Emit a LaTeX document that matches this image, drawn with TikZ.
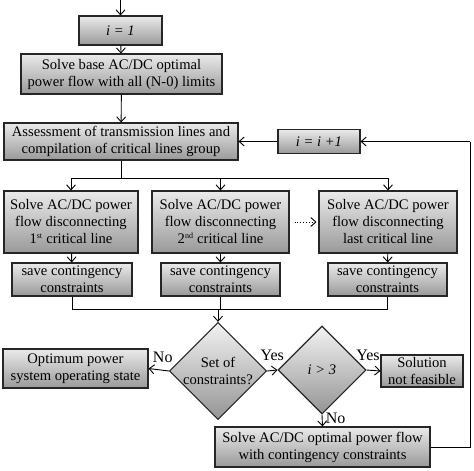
\documentclass[tikz,border=0pt]{standalone}
\usepackage{fontspec}
\setmainfont{Liberation Serif}
\usetikzlibrary{arrows.meta,shapes.geometric}
\begin{document}
\begin{tikzpicture}[x=1pt,y=-1pt,
  font=\fontsize{14.6}{17}\selectfont,
  >={Straight Barb[length=5pt,width=9pt]},
  line width=0.9pt,
  box/.style={rectangle,draw=black!85,line width=1.1pt,top color=white!92!black,bottom color=black!40,
    align=center,inner sep=1pt},
  dia/.style={diamond,draw=black!85,line width=1.1pt,shading angle=225,top color=white!95!black,bottom color=black!42,
    align=center,inner sep=0pt,minimum width=88pt,minimum height=88pt,aspect=1},
  lbl/.style={font=\fontsize{16}{17}\selectfont}
]
\useasboundingbox (0,0) rectangle (474,471);
\node[box,minimum width=83pt,minimum height=29pt] (i1) at (120.5,30.5) {\textit{i = 1}};
\coordinate (top) at (120.5,0);
\node[box,minimum width=201pt,minimum height=40pt] (base) at (121.5,74) {Solve base AC/DC optimal\\power flow with all (N-0) limits};
\node[box,minimum width=234pt,minimum height=37pt] (ass) at (121,141.5) {Assessment of transmission lines and\\compilation of critical lines group};
\node[box,minimum width=82pt,minimum height=24pt] (inc) at (319,141.5) {\textit{i = i +1}};
\node[box,minimum width=134pt,minimum height=62pt] (b1) at (71,222) {Solve AC/DC power\\flow disconnecting\\1\textsuperscript{\footnotesize st} critical line};
\node[box,minimum width=137pt,minimum height=62pt] (b2) at (220.5,222) {Solve AC/DC power\\flow disconnecting\\2\textsuperscript{\footnotesize nd} critical line};
\node[box,minimum width=138pt,minimum height=62pt] (b3) at (388,222) {Solve AC/DC power\\flow disconnecting\\last critical line};
\node[box,minimum width=120pt,minimum height=33pt] (s1) at (72,279.5) {save contingency\\constraints};
\node[box,minimum width=119pt,minimum height=33pt] (s2) at (220.5,279.5) {save contingency\\constraints};
\node[box,minimum width=119pt,minimum height=33pt] (s3) at (387.5,279.5) {save contingency\\constraints};
\node[dia] (d1) at (218,371) {Set of\\constraints?};
\node[dia] (d2) at (322,370) {\textit{i > 3}};
\node[box,minimum width=145pt,minimum height=39pt] (opt) at (75.5,368.5) {Optimum power\\system operating state};
\node[box,minimum width=82pt,minimum height=32pt] (sol) at (422,371) {Solution\\not feasible};
\node[box,minimum width=215pt,minimum height=40pt] (fin) at (322.5,447) {Solve AC/DC optimal power flow\\with contingency constraints};
\coordinate (split) at (121,178);
\coordinate (merge) at (218,309);
\coordinate (rc) at (470,447);
\coordinate (rt) at (470,141.5);
% connectors
\draw[->] (top) -- (i1);
\draw[->] (i1) -- (base);
\draw[->] (base) -- (ass);
\draw (ass.south) -- (split);
\draw[->] (split) -| (b1.north);
\draw[->] (split) -| (b2.north);
\draw[->] (split) -| (b3.north);
\draw[->,dotted] (b2.east) ++(5,0) -- ([xshift=-2pt]b3.west);
\draw[->] (b1) -- (s1);
\draw[->] (b2) -- (s2);
\draw[->] (b3) -- (s3);
\draw (s1.south) |- (merge);
\draw (s3.south) |- (merge);
\draw (s2.south) -- (s2.south |- merge);
\draw[->] (merge) -- (d1.north);
\draw[->] (d1.west) -- node[lbl,above,pos=0.3,yshift=4pt]{No} (opt.east);
\draw[->] (d1.east) -- node[lbl,above,yshift=6pt]{Yes} (d2.west);
\draw[->] (d2.east) -- node[lbl,above,pos=0.1,yshift=6pt]{Yes} (sol.west);
\draw[->] (d2.south) -- node[lbl,right,pos=0.3]{No} (fin.north);
\draw (fin.east) -- (rc) -- (rt);
\draw[->] (rt) -- (inc.east);
\draw[->] (inc.west) -- (ass.east);
\end{tikzpicture}
\end{document}
